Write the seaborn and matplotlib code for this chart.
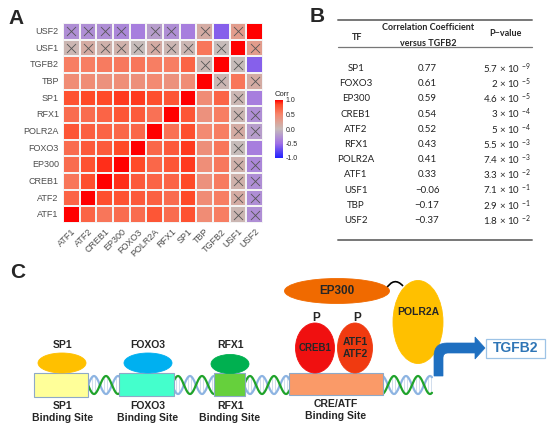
import numpy as np
import pandas as pd
import matplotlib
matplotlib.use("Agg")
import matplotlib.pyplot as plt
import seaborn as sns
from matplotlib.colors import LinearSegmentedColormap
from matplotlib.patches import Ellipse, Rectangle, PathPatch
from matplotlib.path import Path

# ---- panel A data: correlation matrix ----
genes = ["ATF1", "ATF2", "CREB1", "EP300", "FOXO3", "POLR2A",
         "RFX1", "SP1", "TBP", "TGFB2", "USF1", "USF2"]

r_atf1 = [1.00, 0.70, 0.60, 0.65, 0.65, 0.78, 0.65, 0.80, 0.45, 0.55, 0.05, -0.30]
r_atf2 = [0.70, 1.00, 0.82, 0.80, 0.75, 0.72, 0.65, 0.85, 0.45, 0.55, 0.15, -0.30]
r_creb1 = [0.60, 0.82, 1.00, 0.90, 0.75, 0.70, 0.70, 0.85, 0.40, 0.57, 0.10, -0.30]
r_ep300 = [0.65, 0.80, 0.90, 1.00, 0.85, 0.68, 0.78, 0.88, 0.43, 0.58, 0.10, -0.35]
r_foxo3 = [0.65, 0.75, 0.75, 0.85, 1.00, 0.68, 0.75, 0.88, 0.42, 0.60, 0.00, -0.40]
r_polr2a = [0.78, 0.72, 0.70, 0.68, 0.68, 1.00, 0.62, 0.82, 0.47, 0.55, 0.15, -0.20]
r_rfx1 = [0.65, 0.65, 0.70, 0.78, 0.75, 0.62, 1.00, 0.78, 0.40, 0.55, 0.05, -0.30]
r_sp1 = [0.80, 0.85, 0.85, 0.88, 0.88, 0.82, 0.78, 1.00, 0.45, 0.70, 0.05, -0.40]
r_tbp = [0.45, 0.45, 0.40, 0.43, 0.42, 0.47, 0.40, 0.45, 1.00, 0.05, 0.60, 0.15]
r_tgfb2 = [0.55, 0.55, 0.57, 0.58, 0.60, 0.55, 0.55, 0.70, 0.05, 1.00, 0.00, -0.60]
r_usf1 = [0.05, 0.15, 0.10, 0.10, 0.00, 0.15, 0.05, 0.05, 0.60, 0.00, 1.00, 0.30]
r_usf2 = [-0.30, -0.30, -0.30, -0.35, -0.40, -0.20, -0.30, -0.40, 0.15, -0.60, 0.30, 1.00]

# cells crossed out (not significant), as (row gene, column gene), symmetric
insig_pairs = [("USF1", g) for g in genes if g not in ("TBP", "USF1")]
insig_pairs += [("USF2", g) for g in ["ATF1", "ATF2", "CREB1", "EP300", "POLR2A", "RFX1", "TBP"]]
insig_pairs += [("TGFB2", "TBP")]

# ---- panel B data: table ----
tf_names = ["SP1", "FOXO3", "EP300", "CREB1", "ATF2", "RFX1",
            "POLR2A", "ATF1", "USF1", "TBP", "USF2"]
tf_corr = [0.77, 0.61, 0.59, 0.54, 0.52, 0.43, 0.41, 0.33, -0.06, -0.17, -0.37]
p_mant = ["5.7", "2", "4.6", "3", "5", "5.5", "7.4", "3.3", "7.1", "2.9", "1.8"]
p_exp = [-9, -5, -5, -4, -4, -3, -3, -2, -1, -1, -2]

sns.set_style("white")
plt.rcParams["font.family"] = ["Liberation Sans", "DejaVu Sans"]
plt.rcParams["mathtext.fontset"] = "custom"
plt.rcParams["mathtext.rm"] = "Lato"
plt.rcParams["mathtext.default"] = "regular"

W, H = 550, 429
fig = plt.figure(figsize=(W / 100, H / 100), dpi=100)

# overlay axes in pixel coordinates for table and diagram
ov = fig.add_axes([0, 0, 1, 1])
ov.set_xlim(0, W)
ov.set_ylim(H, 0)
ov.axis("off")


def px(l, t, w, h):
    return [l / W, 1 - (t + h) / H, w / W, h / H]


# ---------------- A: heatmap ----------------
mat = pd.DataFrame([r_atf1, r_atf2, r_creb1, r_ep300, r_foxo3, r_polr2a,
                    r_rfx1, r_sp1, r_tbp, r_tgfb2, r_usf1, r_usf2],
                   index=genes, columns=genes)

cmap = LinearSegmentedColormap.from_list("corr", [
    (0.0, "#2020FF"), (0.25, "#A070E6"), (0.5, "#C6BBBA"),
    (0.75, "#F5876E"), (0.925, "#FF4A28"), (1.0, "#FF0000")])

ax = fig.add_axes(px(63, 23, 200, 200))
cax = fig.add_axes(px(275, 100, 8, 58))
sns.heatmap(mat.iloc[::-1], cmap=cmap, vmin=-1, vmax=1, ax=ax, cbar_ax=cax,
            linewidths=0.3, linecolor="#F4F4F4")

n = len(genes)
xs, ys = [], []
for a, b in insig_pairs:
    for r, c in ((a, b), (b, a)):
        i, j = genes.index(r), genes.index(c)
        xs.append(j + 0.5)
        ys.append(n - 1 - i + 0.5)
ax.scatter(xs, ys, marker="x", s=42, color="#555555", linewidths=0.6, zorder=3)

ax.set_xticklabels(genes, rotation=45, ha="right", rotation_mode="anchor",
                   fontsize=6.5, color="#4D4D4D")
ax.set_yticklabels(genes[::-1], rotation=0, fontsize=6.5, color="#4D4D4D")
ax.tick_params(length=0, pad=3)
ax.set_xlabel("")
ax.set_ylabel("")

cb = ax.collections[0].colorbar
cb.outline.set_visible(False)
cb.set_ticks([-1, -0.5, 0, 0.5, 1])
cb.set_ticklabels(["-1.0", "-0.5", "0.0", "0.5", "1.0"])
cax.tick_params(labelsize=5, length=2, direction="in", color="white", pad=2)
ov.text(275, 94, "Corr", fontsize=5.5, ha="left", va="center", color="#222222")

ov.text(8, 18, "A", fontsize=15, fontweight="bold", ha="left", va="center")
ov.text(310, 16, "B", fontsize=15, fontweight="bold", ha="left", va="center")
ov.text(10, 272, "C", fontsize=15, fontweight="bold", ha="left", va="center")

# ---------------- B: table ----------------
tfont = ["Lato", "DejaVu Sans"]
ov.plot([338, 532], [20, 20], color="#777777", lw=1.4)
ov.plot([338, 532], [47, 47], color="#777777", lw=0.9)
ov.plot([338, 532], [240, 240], color="#777777", lw=1.4)
ov.text(357, 37, "TF", fontsize=6.5, fontweight="bold", ha="center", va="center", family=tfont)
ov.text(428, 28, "Correlation Coefficient", fontsize=6.5, fontweight="bold",
        ha="center", va="center", family=tfont)
ov.text(428, 43, "versus TGFB2", fontsize=6.5, fontweight="bold",
        ha="center", va="center", family=tfont)
ov.text(505, 33, "P\u2212value", fontsize=6.5, fontweight="bold", ha="center", va="center", family=tfont)

row_y0, row_dy = 68.5, 15.2
for k, (name, r, m, e) in enumerate(zip(tf_names, tf_corr, p_mant, p_exp)):
    y = row_y0 + k * row_dy
    ov.text(356, y, name, fontsize=7, ha="center", va="center", family=tfont, color="#222222")
    ov.text(427, y, f"{r:.2f}".replace("-", "\u2212"), fontsize=7, ha="center",
            va="center", family=tfont, color="#222222")
    ov.text(531, y, m + " \u00d7 10 $^{" + str(e) + "}$", fontsize=7, ha="right",
            va="center", family=tfont, color="#222222")

# ---------------- C: diagram ----------------
# DNA double helix behind the boxes
hx = np.linspace(88, 432, 800)
phase = 2 * np.pi * (hx - 88) / 24
ov.plot(hx, 385 + 9 * np.sin(phase + np.pi), color="#8DB4E2", lw=1.6, zorder=1)
ov.plot(hx, 385 + 9 * np.sin(phase), color="#1FA32A", lw=1.6, zorder=1.2)
for x0 in np.arange(89, 432, 3):
    p0 = 2 * np.pi * (x0 - 88) / 24
    ov.plot([x0, x0], [385 + 9 * np.sin(p0), 385 - 9 * np.sin(p0)],
            color="#BFD0E6", lw=0.5, zorder=0.9)

boxes = [  # left, top, width, height, colour
    (34, 373, 54, 24, "#FFFF99"),
    (119, 373, 55, 23, "#44FFCC"),
    (214, 373, 31, 23, "#66D03C"),
    (289, 373, 94, 22, "#FA9A68"),
]
for l, t, w, h, c in boxes:
    ov.add_patch(Rectangle((l, t), w, h, facecolor=c, edgecolor="#8EA9C8", lw=0.8, zorder=2))

ellipses = [  # cx, cy, width, height, colour, label, font size
    (62, 363, 48, 20, "#FFC000", "", 0),
    (148, 363, 48, 20, "#00B0F0", "", 0),
    (230, 364, 38, 19, "#00B050", "", 0),
    (315, 348, 39, 50, "#F01010", "CREB1", 7),
    (355, 348, 35, 50, "#F03A10", "ATF1\nATF2", 7.5),
    (337, 291, 105, 25, "#F06A00", "EP300", 8.5),
    (418, 322, 50, 83, "#FFC000", "POLR2A", 7.5),
]
for cx, cy, w, h, c, lab, fs in ellipses:
    ov.add_patch(Ellipse((cx, cy), w, h, facecolor=c, edgecolor=c, lw=0.6, zorder=3))
    if lab:
        dy = -10 if lab == "POLR2A" else 0
        ov.text(cx, cy + dy, lab, fontsize=fs, fontweight="bold", ha="center",
                va="center", zorder=4, linespacing=1.3)

# connector between EP300 and POLR2A
conn = Path([(386, 289), (394, 276), (403, 286)], [Path.MOVETO, Path.CURVE3, Path.CURVE3])
ov.add_patch(PathPatch(conn, facecolor="none", edgecolor="black", lw=1.2, zorder=2.5))

labels_top = [(63, 345, "SP1"), (148, 345, "FOXO3"), (230, 345, "RFX1"),
              (316, 318, "P"), (357, 318, "P")]
for x, y, s in labels_top:
    ov.text(x, y, s, fontsize=8.5 if s == "P" else 7.5, fontweight="bold",
            ha="center", va="center")

labels_bot = [(63, 412, "SP1\nBinding Site"), (148, 412, "FOXO3\nBinding Site"),
              (230, 412, "RFX1\nBinding Site"), (336, 410, "CRE/ATF\nBinding Site")]
for x, y, s in labels_bot:
    ov.text(x, y, s, fontsize=7.5, fontweight="bold", ha="center", va="center",
            linespacing=1.25)

# bent transcription arrow
arrow = Path(
    [(434, 376), (434, 356), (434, 343), (447, 343), (475, 343), (475, 337),
     (485, 348), (475, 359), (475, 353), (448, 353), (443, 353), (443, 358),
     (443, 376), (434, 376)],
    [Path.MOVETO, Path.LINETO, Path.CURVE3, Path.CURVE3, Path.LINETO, Path.LINETO,
     Path.LINETO, Path.LINETO, Path.LINETO, Path.LINETO, Path.CURVE3, Path.CURVE3,
     Path.LINETO, Path.CLOSEPOLY])
ov.add_patch(PathPatch(arrow, facecolor="#1E6FC0", edgecolor="#1E6FC0", lw=0.5, zorder=3))

ov.add_patch(Rectangle((486, 339), 59, 19, facecolor="white", edgecolor="#9DC3E6", lw=0.9, zorder=3))
ov.text(515.5, 348.5, "TGFB2", fontsize=10, fontweight="bold", color="#2E75B6",
        ha="center", va="center", zorder=4)

fig.savefig("out.png", dpi=100)
